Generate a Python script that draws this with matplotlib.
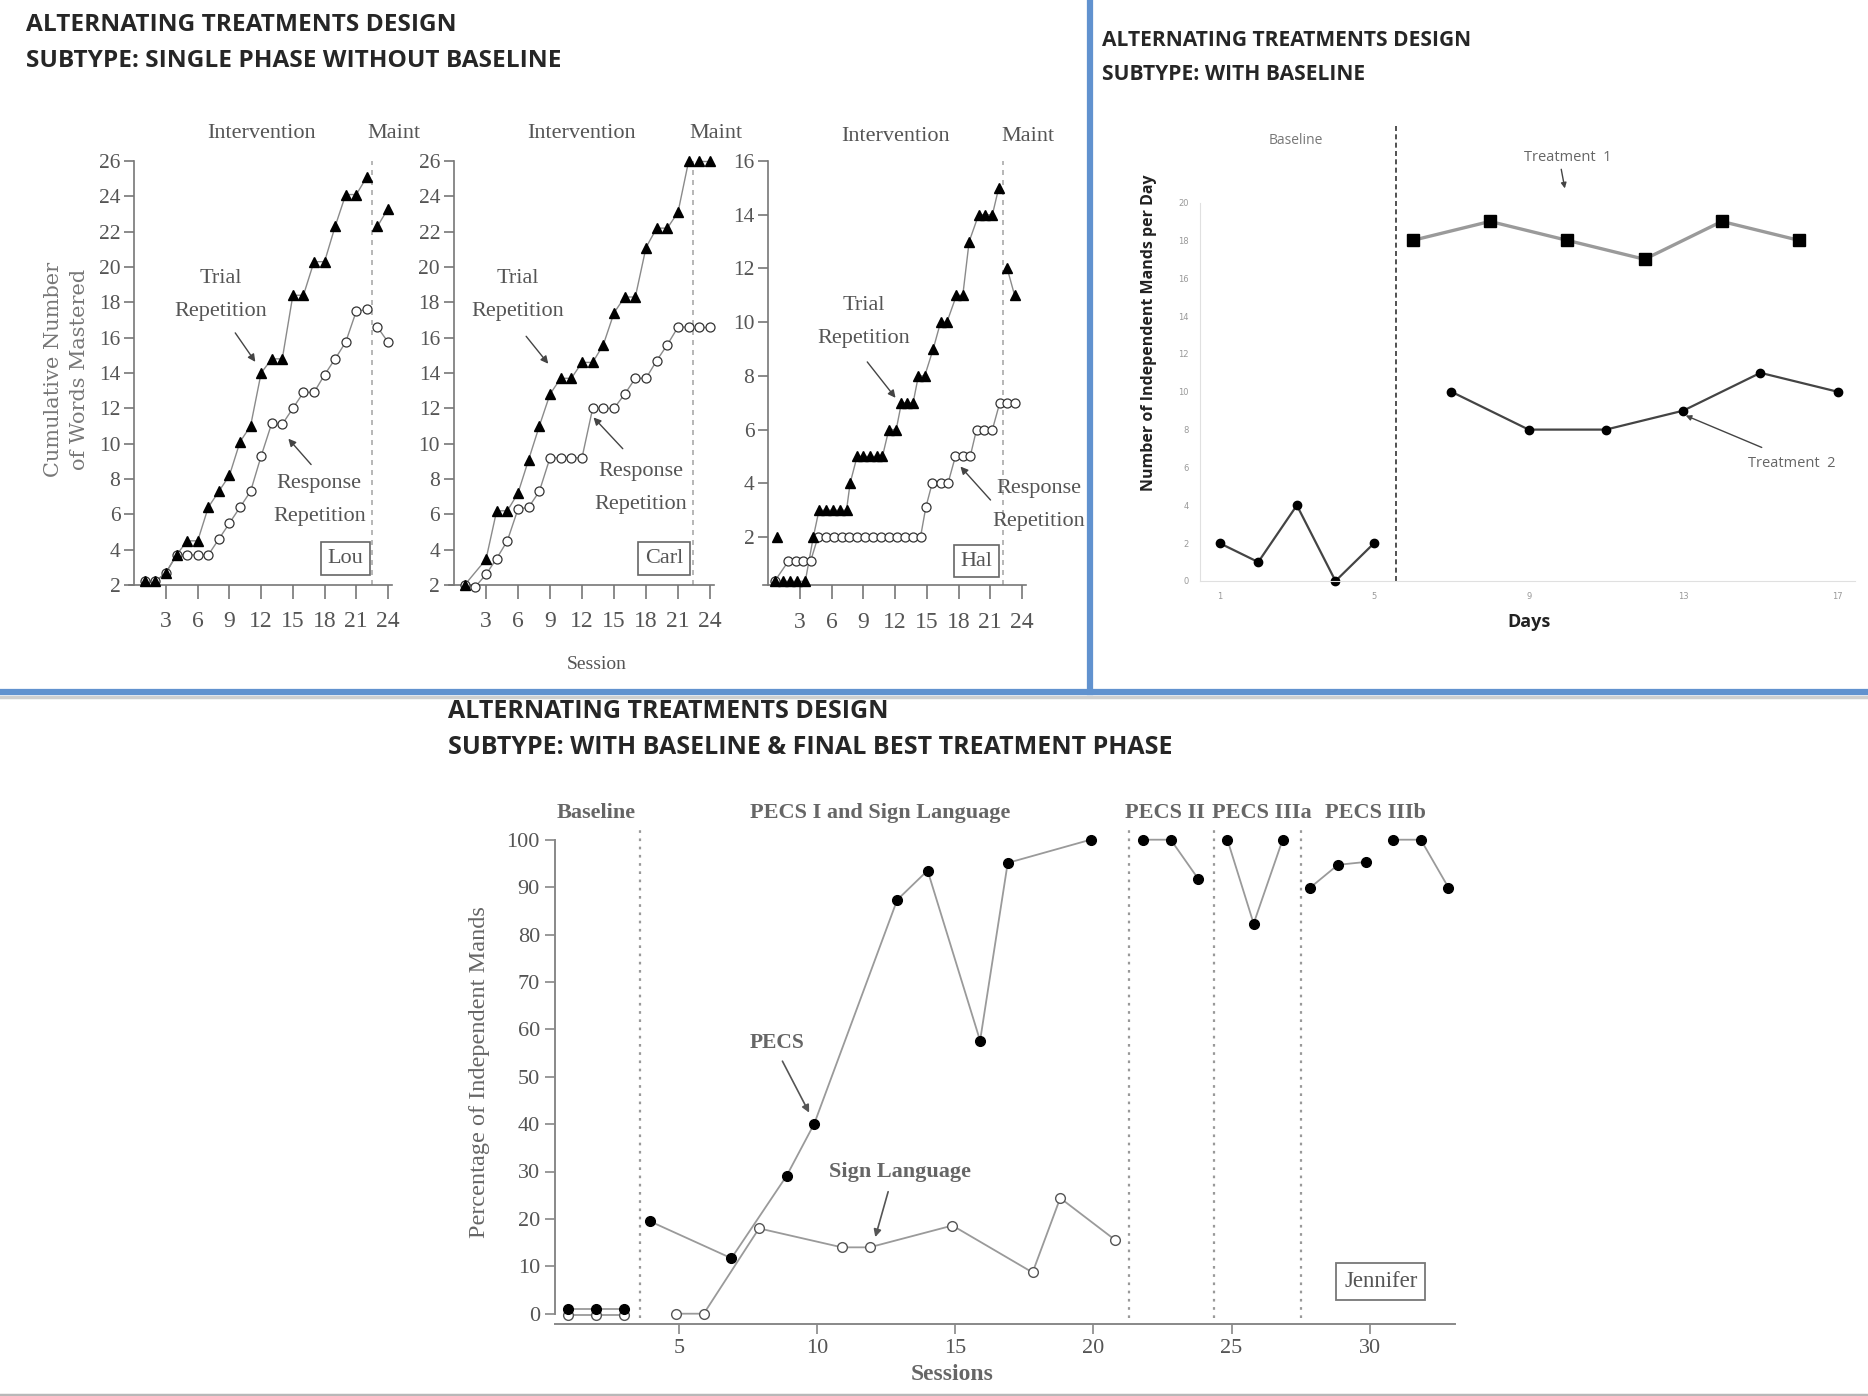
import matplotlib
matplotlib.use("Agg")
import matplotlib.pyplot as plt
from matplotlib.lines import Line2D
from matplotlib.patches import Rectangle

W, H = 1868, 1396
SERIF = "Liberation Serif"
SANS = "Open Sans"
TXT = "#555555"

# --- single phase without baseline: cumulative words mastered ---
lou_trial_x = [1, 2, 3, 4, 5, 6, 7, 8, 9, 10, 11, 12, 13, 14, 15, 16, 17, 18, 19, 20, 21, 22]
lou_trial_y = [2.2, 2.2, 2.7, 3.7, 4.5, 4.5, 6.4, 7.3, 8.2, 10.1, 11.0, 14.0, 14.8, 14.8,
               18.4, 18.4, 20.3, 20.3, 22.3, 24.1, 24.1, 25.1]
lou_trial_mx = [23, 24]
lou_trial_my = [22.3, 23.3]
lou_resp_x = [1, 2, 3, 4, 5, 6, 7, 8, 9, 10, 11, 12, 13, 14, 15, 16, 17, 18, 19, 20, 21, 22]
lou_resp_y = [2.2, 2.2, 2.7, 3.7, 3.7, 3.7, 3.7, 4.6, 5.5, 6.4, 7.3, 9.3, 11.15, 11.1,
              12.0, 12.9, 12.9, 13.9, 14.8, 15.75, 17.5, 17.6]
lou_resp_mx = [23, 24]
lou_resp_my = [16.6, 15.75]

carl_trial_x = [1, 3, 4, 5, 6, 7, 8, 9, 10, 11, 12, 13, 14, 15, 16, 17, 18, 19, 20, 21, 22]
carl_trial_y = [2.0, 3.45, 6.2, 6.2, 7.2, 9.1, 11.0, 12.8, 13.7, 13.7, 14.6, 14.6, 15.6,
                17.4, 18.3, 18.3, 21.1, 22.2, 22.2, 23.1, 26.0]
carl_trial_mx = [23, 24]
carl_trial_my = [26.0, 26.0]
carl_resp_x = [1, 2, 3, 4, 5, 6, 7, 8, 9, 10, 11, 12, 13, 14, 15, 16, 17, 18, 19, 20, 21, 22]
carl_resp_y = [2.0, 1.9, 2.6, 3.5, 4.5, 6.3, 6.4, 7.3, 9.2, 9.2, 9.2, 9.2, 12.0, 12.0,
               12.0, 12.8, 13.7, 13.7, 14.7, 15.6, 16.6, 16.6]
carl_resp_mx = [23, 24]
carl_resp_my = [16.6, 16.6]

hal_probe_x = [0.8]
hal_probe_y = [2.0]
hal_trial_x = [0.6, 1.35, 2.05, 2.75, 3.5, 4.26, 4.8, 5.45, 6.1, 6.75, 7.4, 7.74, 8.4, 9.0,
               9.6, 10.3, 10.8, 11.4, 12.1, 12.6, 13.1, 13.7, 14.2, 14.8, 15.6, 16.3, 16.9,
               17.8, 18.4, 19.0, 19.9, 20.5, 21.2, 21.8]
hal_trial_y = [0.35, 0.35, 0.35, 0.35, 0.35, 2, 3, 3, 3, 3, 3, 4, 5, 5, 5, 5, 5, 6, 6,
               7, 7, 7, 8, 8, 9, 10, 10, 11, 11, 13, 14, 14, 14, 15]
hal_trial_mx = [22.6, 23.3]
hal_trial_my = [12, 11]
hal_resp_x = [0.6, 1.9, 2.6, 3.3, 4.0, 4.7, 5.45, 6.2, 6.94, 7.68, 8.43, 9.18, 9.92, 10.67,
              11.4, 12.16, 12.9, 13.65, 14.4, 14.9, 15.5, 16.3, 17.0, 17.7, 18.4, 19.1,
              19.7, 20.4, 21.2, 21.9, 22.6, 23.3]
hal_resp_y = [0.35, 1.1, 1.1, 1.1, 1.1, 2, 2, 2, 2, 2, 2, 2, 2, 2, 2, 2, 2, 2, 2, 3.1,
              4, 4, 4, 5, 5, 5, 6, 6, 6, 7, 7, 7]

# --- with baseline: independent mands per day ---
base_days = [1, 2, 3, 4, 5]
base_vals = [2, 1, 4, 0, 2]
t1_days = [6, 8, 10, 12, 14, 16]
t1_vals = [18, 19, 18, 17, 19, 18]
t2_days = [7, 9, 11, 13, 15, 17]
t2_vals = [10, 8, 8, 9, 11, 10]

# --- with baseline & final best treatment phase (Jennifer) ---
pecs_base_x = [1, 2, 3]
pecs_base_y = [1, 1, 1]
sign_base_x = [1, 2, 3]
sign_base_y = [-0.3, -0.3, -0.3]
pecs1_x = [3.95, 6.9, 8.9, 9.9, 12.9, 14.0, 15.9, 16.9, 19.9]
pecs1_y = [19.5, 11.7, 29.1, 40.1, 87.3, 93.5, 57.6, 95.1, 100]
sign1_x = [4.9, 5.9, 7.9, 10.9, 11.9, 14.9, 17.8, 18.8, 20.8]
sign1_y = [0, 0, 18, 14, 14, 18.6, 8.7, 24.4, 15.5]
pecs2_x = [21.8, 22.8, 23.8]
pecs2_y = [100, 100, 91.7]
pecs3a_x = [24.85, 25.8, 26.85]
pecs3a_y = [100, 82.3, 100]
pecs3b1_x = [27.85, 28.85, 29.85]
pecs3b1_y = [89.9, 94.7, 95.3]
pecs3b2_x = [30.85, 31.85, 32.85]
pecs3b2_y = [100, 100, 89.9]
phase_lines = [3.6, 21.3, 24.35, 27.5]
phase_names = ["Baseline", "PECS I and Sign Language", "PECS II", "PECS IIIa", "PECS IIIb"]
phase_pos = [2.0, 12.3, 22.6, 26.1, 30.2]


def make_axes(fig, xlim, ylim, xref, yref):
    """Place an axes so that data values land on the given pixel positions."""
    (dx0, px0), (dx1, px1) = xref
    (dy0, py0), (dy1, py1) = yref
    kx = (px1 - px0) / (dx1 - dx0)
    ky = (py1 - py0) / (dy1 - dy0)
    left = px0 + (xlim[0] - dx0) * kx
    right = px0 + (xlim[1] - dx0) * kx
    bottom = py0 + (ylim[0] - dy0) * ky
    top = py0 + (ylim[1] - dy0) * ky
    ax = fig.add_axes([left / W, 1 - bottom / H, (right - left) / W, (bottom - top) / H])
    ax.set_xlim(xlim)
    ax.set_ylim(ylim)
    ax.patch.set_alpha(0)
    return ax


def fig_text(fig, x, y, s, **kw):
    fig.text(x / W, 1 - y / H, s, **kw)


def cumulative_panel(ax, yticks, trial, trial_m, resp, resp_m, maint, name, labels):
    for side in ["top", "right"]:
        ax.spines[side].set_visible(False)
    ax.spines["left"].set_position(("data", 0))
    ax.spines["left"].set_bounds(yticks[0], yticks[-1])
    for side in ["left", "bottom"]:
        ax.spines[side].set_color("#777777")
        ax.spines[side].set_linewidth(1.2)
    ax.set_xticks([3, 6, 9, 12, 15, 18, 21, 24])
    ax.set_yticks(yticks)
    ax.tick_params(axis="x", length=10, width=1.2, color="#777777", labelsize=17,
                   labelcolor=TXT, labelfontfamily=SERIF, pad=9)
    ax.tick_params(axis="y", length=7, width=1.2, color="#777777", labelsize=15.5,
                   labelcolor=TXT, labelfontfamily=SERIF, pad=3)
    for xs, ys in [resp, resp_m]:
        ax.plot(xs, ys, color="#8a8a8a", lw=1, zorder=2)
        ax.plot(xs, ys, ls="none", marker="o", ms=6.5, mfc="white", mec="#333333",
                mew=0.9, zorder=3, clip_on=False)
    for xs, ys in [trial, trial_m]:
        ax.plot(xs, ys, color="#8a8a8a", lw=1, zorder=2)
        ax.plot(xs, ys, ls="none", marker="^", ms=6.5, color="black", zorder=4,
                clip_on=False)
    top = yticks[-1]
    ax.vlines(maint, ax.get_ylim()[0], top, colors="#aaaaaa", linestyles=(0, (3, 3)),
              lw=1.2, zorder=1)
    span = top - yticks[0]
    ax.text(12, top + span * 0.065, "Intervention", ha="center", va="center",
            fontsize=16, color=TXT, family=SERIF, clip_on=False)
    ax.text(24.6, top + span * 0.065, "Maint", ha="center", va="center",
            fontsize=16, color=TXT, family=SERIF, clip_on=False)
    (tx, ty, tt, th), (rx, ry, rt, rh) = labels
    ax.text(tx, ty, "Trial\nRepetition", ha="center", va="center", fontsize=16,
            color=TXT, family=SERIF, linespacing=2.0, clip_on=False)
    ax.annotate("", xy=th, xytext=tt,
                arrowprops=dict(arrowstyle="-|>", color="#444444", lw=1, mutation_scale=11))
    ax.text(rx, ry, "Response\nRepetition", ha="center", va="center", fontsize=16,
            color=TXT, family=SERIF, linespacing=2.0, clip_on=False)
    ax.annotate("", xy=rh, xytext=rt,
                arrowprops=dict(arrowstyle="-|>", color="#444444", lw=1, mutation_scale=11))
    bx, by, label = name
    ax.text(bx, by, label, ha="center", va="center", fontsize=16, color=TXT, family=SERIF,
            bbox=dict(boxstyle="square,pad=0.3", fc="white", ec="#666666", lw=1.2))


fig = plt.figure(figsize=(W / 100, H / 100), dpi=100)
fig.patch.set_facecolor("white")

# headers
head = dict(family=SANS, weight="bold", color="#262626", va="center", ha="left")
fig_text(fig, 26, 25, "ALTERNATING TREATMENTS DESIGN", fontsize=17.6, **head)
fig_text(fig, 26, 61, "SUBTYPE: SINGLE PHASE WITHOUT BASELINE", fontsize=17.6, **head)
fig_text(fig, 1102, 41, "ALTERNATING TREATMENTS DESIGN", fontsize=15.1, **head)
fig_text(fig, 1102, 74, "SUBTYPE: WITH BASELINE", fontsize=15.1, **head)
fig_text(fig, 448, 712, "ALTERNATING TREATMENTS DESIGN", fontsize=18, **head)
fig_text(fig, 448, 748, "SUBTYPE: WITH BASELINE & FINAL BEST TREATMENT PHASE", fontsize=18, **head)

# top-left panels
yr_big = ((2, 585), (26, 161))
ax_lou = make_axes(fig, (-0.5, 24.4), (2, 26.3), ((3, 166), (24, 388)), yr_big)
cumulative_panel(ax_lou, list(range(2, 27, 2)),
                 (lou_trial_x, lou_trial_y), (lou_trial_mx, lou_trial_my),
                 (lou_resp_x, lou_resp_y), (lou_resp_mx, lou_resp_my), 22.45,
                 (20.0, 3.5, "Lou"),
                 ((8.2, 18.4, (9.4, 16.4), (11.6, 14.5)),
                  (17.5, 6.8, (16.9, 8.7), (14.4, 10.4))))
ax_lou.text(-7.65, 14.2, "Cumulative Number", rotation=90, ha="center", va="center",
            fontsize=15, color="#777777", family="DejaVu Serif")
ax_lou.text(-5.2, 14.2, "of Words Mastered", rotation=90, ha="center", va="center",
            fontsize=15, color="#777777", family="DejaVu Serif")

ax_carl = make_axes(fig, (-0.5, 24.4), (2, 26.3), ((3, 486), (24, 710)), yr_big)
cumulative_panel(ax_carl, list(range(2, 27, 2)),
                 (carl_trial_x, carl_trial_y), (carl_trial_mx, carl_trial_my),
                 (carl_resp_x, carl_resp_y), (carl_resp_mx, carl_resp_my), 22.4,
                 (19.7, 3.5, "Carl"),
                 ((6.0, 18.4, (6.6, 16.2), (9.0, 14.4)),
                  (17.5, 7.5, (16.0, 9.6), (12.9, 11.6))))
ax_carl.text(13.4, -2.5, "Session", ha="center", va="center", fontsize=14, color=TXT,
             family=SERIF, clip_on=False)

ax_hal = make_axes(fig, (-0.5, 24.4), (0.2, 16.15), ((3, 800), (24, 1022)), ((2, 537), (16, 161)))
cumulative_panel(ax_hal, list(range(2, 17, 2)),
                 (hal_trial_x, hal_trial_y), (hal_trial_mx, hal_trial_my),
                 (hal_resp_x, hal_resp_y), (hal_resp_x[:0], hal_resp_y[:0]), 22.2,
                 (19.7, 1.1, "Hal"),
                 ((9.0, 10.0, (9.2, 8.6), (12.2, 7.1)),
                  (25.6, 3.2, (21.2, 3.3), (18.0, 4.7))))
ax_hal.spines["left"].set_bounds(0.2, 16)
ax_hal.plot(hal_probe_x, hal_probe_y, ls="none", marker="^", ms=6.5, color="black", zorder=4)

# top-right panel
ax_r = make_axes(fig, (0.49, 17.45), (0, 20), ((1, 1219.6), (17, 1837.7)), ((0, 581), (20, 202.5)))
for side in ["top", "right"]:
    ax_r.spines[side].set_visible(False)
for side in ["left", "bottom"]:
    ax_r.spines[side].set_color("#e0e0e0")
ax_r.set_xticks([1, 5, 9, 13, 17])
ax_r.set_yticks(list(range(0, 21, 2)))
ax_r.tick_params(length=0, labelsize=6, labelcolor="#999999", pad=8)
ax_r.plot(base_days, base_vals, color="#444444", lw=1.6, marker="o", ms=6,
          mfc="black", mec="black", clip_on=False)
ax_r.plot(t1_days, t1_vals, color="#9a9a9a", lw=2.4, marker="s", ms=8,
          mfc="black", mec="black", clip_on=False)
ax_r.plot(t2_days, t2_vals, color="#444444", lw=1.6, marker="o", ms=6,
          mfc="black", mec="black", clip_on=False)
ax_r.vlines(5.56, 0, 24.2, colors="#333333", linestyles=(0, (3, 2)), lw=1.2, clip_on=False)
ax_r.text(2.97, 23.3, "Baseline", ha="center", va="center", fontsize=10, color="#777777",
          family=SANS)
ax_r.text(10.0, 22.4, "Treatment  1", ha="center", va="center", fontsize=10.5,
          color="#666666", family=SANS)
ax_r.annotate("", xy=(9.95, 20.6), xytext=(9.83, 21.9), annotation_clip=False,
              arrowprops=dict(arrowstyle="-|>", color="#444444", lw=1, mutation_scale=8))
ax_r.text(15.8, 6.2, "Treatment  2", ha="center", va="center", fontsize=10.5,
          color="#666666", family=SANS)
ax_r.annotate("", xy=(13.0, 8.8), xytext=(15.1, 7.0),
              arrowprops=dict(arrowstyle="-|>", color="#444444", lw=1, mutation_scale=8))
ax_r.text(-0.84, 13.1, "Number of Independent Mands per Day", rotation=90, ha="center",
          va="center", fontsize=11.5, weight="bold", color="#222222", family=SANS)
ax_r.text(9.0, -2.15, "Days", ha="center", va="center", fontsize=13, weight="bold",
          color="#222222", family=SANS)

# bottom panel
ax_b = make_axes(fig, (0.5, 33.1), (-2.2, 100.5), ((5, 678.9), (30, 1369.7)), ((0, 1313.7), (100, 839.7)))
for side in ["top", "right"]:
    ax_b.spines[side].set_visible(False)
ax_b.spines["left"].set_bounds(0, 100)
for side in ["left", "bottom"]:
    ax_b.spines[side].set_color("#888888")
    ax_b.spines[side].set_linewidth(1.4)
ax_b.set_xticks([5, 10, 15, 20, 25, 30])
ax_b.set_yticks(list(range(0, 101, 10)))
ax_b.tick_params(length=7, width=1.2, color="#888888", labelsize=16, labelcolor=TXT,
                 labelfontfamily=SERIF)
line_kw = dict(color="#9a9a9a", lw=1.3, zorder=2)
for xs, ys in [(sign_base_x, sign_base_y), (sign1_x, sign1_y)]:
    ax_b.plot(xs, ys, **line_kw)
    ax_b.plot(xs, ys, ls="none", marker="o", ms=7, mfc="white", mec="#555555", mew=1,
              zorder=3, clip_on=False)
for xs, ys in [(pecs_base_x, pecs_base_y), (pecs1_x, pecs1_y), (pecs2_x, pecs2_y),
               (pecs3a_x, pecs3a_y), (pecs3b1_x, pecs3b1_y), (pecs3b2_x, pecs3b2_y)]:
    ax_b.plot(xs, ys, **line_kw)
    ax_b.plot(xs, ys, ls="none", marker="o", ms=7, color="black", zorder=4, clip_on=False)
ax_b.vlines(phase_lines, -1, 102, colors="#999999", linestyles=(0, (1.2, 2.5)), lw=1.6,
            clip_on=False)
for name, pos in zip(phase_names, phase_pos):
    ax_b.text(pos, 105.7, name, ha="center", va="center", fontsize=16, weight="bold",
              color="#666666", family=SERIF, clip_on=False)
ax_b.text(8.54, 57.1, "PECS", ha="center", va="center", fontsize=15.5, weight="bold",
          color="#666666", family=SERIF)
ax_b.annotate("", xy=(9.76, 41.9), xytext=(8.7, 53.8),
              arrowprops=dict(arrowstyle="-|>", color="#555555", lw=1.2, mutation_scale=11))
ax_b.text(13.0, 29.8, "Sign Language", ha="center", va="center", fontsize=16,
          weight="bold", color="#666666", family=SERIF)
ax_b.annotate("", xy=(12.08, 15.6), xytext=(12.6, 26.3),
              arrowprops=dict(arrowstyle="-|>", color="#555555", lw=1.2, mutation_scale=11))
ax_b.text(30.4, 6.7, "Jennifer", ha="center", va="center", fontsize=16.5, color=TXT,
          family=SERIF, bbox=dict(boxstyle="square,pad=0.35", fc="white", ec="#777777", lw=1.3))
ax_b.text(-2.2, 51, "Percentage of Independent Mands", rotation=90, ha="center",
          va="center", fontsize=17.5, color="#666666", family=SERIF)
ax_b.text(14.9, -12.8, "Sessions", ha="center", va="center", fontsize=17, weight="bold",
          color="#666666", family=SERIF)

# panel dividers (the white band crops the bottom of the "Session" label)
fig.add_artist(Rectangle((0, 1 - 688 / H), 1090 / W, 19 / H, transform=fig.transFigure,
                         fc="white", ec="none", zorder=5))
fig.add_artist(Line2D([0, 1], [1 - 697 / H, 1 - 697 / H], transform=fig.transFigure,
                      color="#cfcfcf", lw=2.5))
fig.add_artist(Line2D([0, 1], [1 - 692 / H, 1 - 692 / H], transform=fig.transFigure,
                      color="#6192cf", lw=4.5, zorder=6))
fig.add_artist(Line2D([1090 / W, 1090 / W], [1 - 692 / H, 1], transform=fig.transFigure,
                      color="#6192cf", lw=4.5, zorder=6))
fig.add_artist(Line2D([0, 1], [1 - 1394.5 / H, 1 - 1394.5 / H], transform=fig.transFigure,
                      color="#b8b8b8", lw=2.5))

fig.savefig("out.png", dpi=100, facecolor="white")
